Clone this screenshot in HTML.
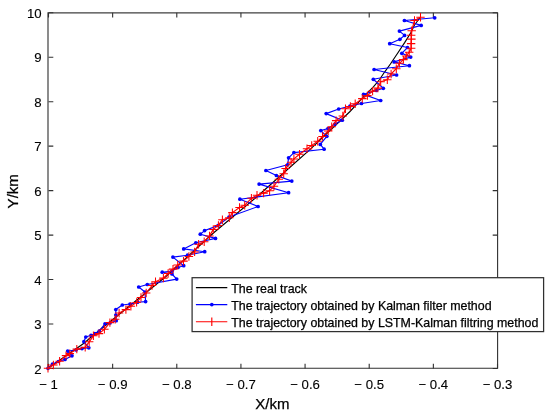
<!DOCTYPE html>
<html><head><meta charset="utf-8"><title>Trajectory plot</title><style>html,body{margin:0;padding:0;background:#fff;overflow:hidden}svg{display:block}</style></head><body>
<svg width="550" height="417" viewBox="0 0 550 417">
<rect width="550" height="417" fill="#fff"/>
<path d="M48,12.9V368.3M47.4,12.9H497.6" fill="none" stroke="#404040" stroke-width="1.2"/>
<path d="M47.4,368.3H498.1M497.6,12.4V368.8" fill="none" stroke="#303030" stroke-width="1.1"/>
<path d="M48.50,368.5v-4.8M48.50,12.75v4.8M112.64,368.5v-4.8M112.64,12.75v4.8M176.79,368.5v-4.8M176.79,12.75v4.8M240.93,368.5v-4.8M240.93,12.75v4.8M305.07,368.5v-4.8M305.07,12.75v4.8M369.21,368.5v-4.8M369.21,12.75v4.8M433.36,368.5v-4.8M433.36,12.75v4.8M497.50,368.5v-4.8M497.50,12.75v4.8M48.5,368.50h4.8M497.5,368.50h-4.8M48.5,324.03h4.8M497.5,324.03h-4.8M48.5,279.56h4.8M497.5,279.56h-4.8M48.5,235.09h4.8M497.5,235.09h-4.8M48.5,190.62h4.8M497.5,190.62h-4.8M48.5,146.16h4.8M497.5,146.16h-4.8M48.5,101.69h4.8M497.5,101.69h-4.8M48.5,57.22h4.8M497.5,57.22h-4.8M48.5,12.75h4.8M497.5,12.75h-4.8" stroke="#303030" stroke-width="1.1" fill="none"/>
<g stroke-linejoin="round">
<polyline points="48.0,368.3 84.0,343.2 92.4,336.0 165.3,277.0 214.0,232.5 258.6,195.3 287.7,169.3 308.8,150.6 349.5,112.0 364.0,96.3 373.6,86.7 379.6,79.5 384.4,72.3 390.4,64.0 397.6,53.2 404.8,42.4 410.8,32.8 414.5,25.0 420.5,17.0" fill="none" stroke="#000" stroke-width="1.15"/>
<polyline points="48.0,368.3 52.5,364.0 58.5,361.5 65.0,359.5 72.0,355.8 67.7,351.1 76.0,350.0 82.0,348.6 88.8,347.8 83.9,341.7 85.8,337.0 91.0,335.3 94.9,333.7 99.2,331.2 105.0,323.8 110.0,323.0 116.2,320.7 115.8,315.0 115.8,309.5 122.3,305.0 130.0,304.0 137.6,302.2 145.6,301.6 145.0,292.0 138.7,287.0 147.3,284.5 176.7,279.1 172.0,274.0 162.2,272.2 172.0,271.0 178.0,267.5 183.7,265.7 172.9,257.1 187.5,255.2 204.7,251.7 183.7,248.9 195.8,242.8 215.5,238.4 200.3,234.2 204.6,230.6 218.0,225.5 229.0,217.0 258.1,206.5 239.9,199.2 288.6,192.7 259.1,184.1 291.8,181.1 276.4,175.5 265.9,170.5 287.6,164.8 288.6,157.8 293.9,152.6 324.1,149.2 320.3,144.4 326.8,136.3 320.8,130.6 328.0,128.5 335.0,124.0 342.3,120.2 326.2,113.6 338.7,109.0 350.0,106.0 361.5,103.5 380.7,100.5 363.5,94.4 376.3,90.5 383.3,88.3 373.3,79.3 396.6,75.0 374.1,69.5 409.4,65.7 394.1,61.9 410.7,57.1 401.8,53.3 407.5,47.5 389.7,43.7 399.9,39.3 404.6,35.4 399.4,31.1 421.2,25.4 404.4,20.5 434.7,17.8" fill="none" stroke="#00f" stroke-width="1.15"/>
<g fill="#00f">
<circle cx="48.0" cy="368.3" r="1.85"/>
<circle cx="52.5" cy="364.0" r="1.85"/>
<circle cx="58.5" cy="361.5" r="1.85"/>
<circle cx="65.0" cy="359.5" r="1.85"/>
<circle cx="72.0" cy="355.8" r="1.85"/>
<circle cx="67.7" cy="351.1" r="1.85"/>
<circle cx="76.0" cy="350.0" r="1.85"/>
<circle cx="82.0" cy="348.6" r="1.85"/>
<circle cx="88.8" cy="347.8" r="1.85"/>
<circle cx="83.9" cy="341.7" r="1.85"/>
<circle cx="85.8" cy="337.0" r="1.85"/>
<circle cx="91.0" cy="335.3" r="1.85"/>
<circle cx="94.9" cy="333.7" r="1.85"/>
<circle cx="99.2" cy="331.2" r="1.85"/>
<circle cx="105.0" cy="323.8" r="1.85"/>
<circle cx="110.0" cy="323.0" r="1.85"/>
<circle cx="116.2" cy="320.7" r="1.85"/>
<circle cx="115.8" cy="315.0" r="1.85"/>
<circle cx="115.8" cy="309.5" r="1.85"/>
<circle cx="122.3" cy="305.0" r="1.85"/>
<circle cx="130.0" cy="304.0" r="1.85"/>
<circle cx="137.6" cy="302.2" r="1.85"/>
<circle cx="145.6" cy="301.6" r="1.85"/>
<circle cx="145.0" cy="292.0" r="1.85"/>
<circle cx="138.7" cy="287.0" r="1.85"/>
<circle cx="147.3" cy="284.5" r="1.85"/>
<circle cx="176.7" cy="279.1" r="1.85"/>
<circle cx="172.0" cy="274.0" r="1.85"/>
<circle cx="162.2" cy="272.2" r="1.85"/>
<circle cx="172.0" cy="271.0" r="1.85"/>
<circle cx="178.0" cy="267.5" r="1.85"/>
<circle cx="183.7" cy="265.7" r="1.85"/>
<circle cx="172.9" cy="257.1" r="1.85"/>
<circle cx="187.5" cy="255.2" r="1.85"/>
<circle cx="204.7" cy="251.7" r="1.85"/>
<circle cx="183.7" cy="248.9" r="1.85"/>
<circle cx="195.8" cy="242.8" r="1.85"/>
<circle cx="215.5" cy="238.4" r="1.85"/>
<circle cx="200.3" cy="234.2" r="1.85"/>
<circle cx="204.6" cy="230.6" r="1.85"/>
<circle cx="218.0" cy="225.5" r="1.85"/>
<circle cx="229.0" cy="217.0" r="1.85"/>
<circle cx="258.1" cy="206.5" r="1.85"/>
<circle cx="239.9" cy="199.2" r="1.85"/>
<circle cx="288.6" cy="192.7" r="1.85"/>
<circle cx="259.1" cy="184.1" r="1.85"/>
<circle cx="291.8" cy="181.1" r="1.85"/>
<circle cx="276.4" cy="175.5" r="1.85"/>
<circle cx="265.9" cy="170.5" r="1.85"/>
<circle cx="287.6" cy="164.8" r="1.85"/>
<circle cx="288.6" cy="157.8" r="1.85"/>
<circle cx="293.9" cy="152.6" r="1.85"/>
<circle cx="324.1" cy="149.2" r="1.85"/>
<circle cx="320.3" cy="144.4" r="1.85"/>
<circle cx="326.8" cy="136.3" r="1.85"/>
<circle cx="320.8" cy="130.6" r="1.85"/>
<circle cx="328.0" cy="128.5" r="1.85"/>
<circle cx="335.0" cy="124.0" r="1.85"/>
<circle cx="342.3" cy="120.2" r="1.85"/>
<circle cx="326.2" cy="113.6" r="1.85"/>
<circle cx="338.7" cy="109.0" r="1.85"/>
<circle cx="350.0" cy="106.0" r="1.85"/>
<circle cx="361.5" cy="103.5" r="1.85"/>
<circle cx="380.7" cy="100.5" r="1.85"/>
<circle cx="363.5" cy="94.4" r="1.85"/>
<circle cx="376.3" cy="90.5" r="1.85"/>
<circle cx="383.3" cy="88.3" r="1.85"/>
<circle cx="373.3" cy="79.3" r="1.85"/>
<circle cx="396.6" cy="75.0" r="1.85"/>
<circle cx="374.1" cy="69.5" r="1.85"/>
<circle cx="409.4" cy="65.7" r="1.85"/>
<circle cx="394.1" cy="61.9" r="1.85"/>
<circle cx="410.7" cy="57.1" r="1.85"/>
<circle cx="401.8" cy="53.3" r="1.85"/>
<circle cx="407.5" cy="47.5" r="1.85"/>
<circle cx="389.7" cy="43.7" r="1.85"/>
<circle cx="399.9" cy="39.3" r="1.85"/>
<circle cx="404.6" cy="35.4" r="1.85"/>
<circle cx="399.4" cy="31.1" r="1.85"/>
<circle cx="421.2" cy="25.4" r="1.85"/>
<circle cx="404.4" cy="20.5" r="1.85"/>
<circle cx="434.7" cy="17.8" r="1.85"/>
</g>
<polyline points="48.0,368.2 53.4,365.0 59.6,361.3 66.0,355.6 69.8,353.6 76.8,349.1 85.2,347.2 89.2,341.8 93.4,335.8 99.0,333.6 104.4,329.3 109.9,322.6 115.2,319.3 119.1,313.0 125.9,309.6 130.9,306.3 136.6,302.4 141.0,297.4 146.2,293.0 152.0,285.5 155.5,281.7 163.4,278.1 168.1,273.5 173.0,269.1 177.7,265.0 183.5,261.1 188.9,256.5 194.6,251.9 198.6,244.2 204.2,241.7 209.5,235.9 213.3,229.4 218.4,225.4 222.4,219.7 229.3,217.7 232.4,212.6 239.5,207.5 244.7,205.2 251.4,198.3 257.0,195.3 263.6,193.1 269.6,190.7 274.0,186.3 278.8,179.2 283.7,173.7 285.6,168.5 291.1,162.3 293.9,158.9 299.5,154.2 307.0,148.7 311.7,145.4 317.7,141.3 322.5,136.5 328.2,131.0 331.7,126.7 336.1,120.6 342.8,116.0 345.5,108.7 350.4,106.4 355.2,103.8 362.3,98.6 367.4,95.6 372.6,91.1 377.9,88.1 380.7,81.7 387.3,79.7 391.1,74.0 396.3,68.7 399.4,63.3 403.4,59.6 406.3,55.9 409.2,52.2 411.2,48.2 411.1,43.6 411.4,39.1 411.2,35.2 411.7,30.7 414.5,20.4 420.5,17.2" fill="none" stroke="#f00" stroke-width="1.15"/>
<path d="M43.8,368.2h8.4M48.0,364.0v8.4M49.2,365.0h8.4M53.4,360.8v8.4M55.4,361.3h8.4M59.6,357.1v8.4M61.8,355.6h8.4M66.0,351.4v8.4M65.6,353.6h8.4M69.8,349.4v8.4M72.6,349.1h8.4M76.8,344.9v8.4M81.0,347.2h8.4M85.2,343.0v8.4M85.0,341.8h8.4M89.2,337.6v8.4M89.2,335.8h8.4M93.4,331.6v8.4M94.8,333.6h8.4M99.0,329.4v8.4M100.2,329.3h8.4M104.4,325.1v8.4M105.7,322.6h8.4M109.9,318.4v8.4M111.0,319.3h8.4M115.2,315.1v8.4M114.9,313.0h8.4M119.1,308.8v8.4M121.7,309.6h8.4M125.9,305.4v8.4M126.7,306.3h8.4M130.9,302.1v8.4M132.4,302.4h8.4M136.6,298.2v8.4M136.8,297.4h8.4M141.0,293.2v8.4M142.0,293.0h8.4M146.2,288.8v8.4M147.8,285.5h8.4M152.0,281.3v8.4M151.3,281.7h8.4M155.5,277.5v8.4M159.2,278.1h8.4M163.4,273.9v8.4M163.9,273.5h8.4M168.1,269.3v8.4M168.8,269.1h8.4M173.0,264.9v8.4M173.5,265.0h8.4M177.7,260.8v8.4M179.3,261.1h8.4M183.5,256.9v8.4M184.7,256.5h8.4M188.9,252.3v8.4M190.4,251.9h8.4M194.6,247.7v8.4M194.4,244.2h8.4M198.6,240.0v8.4M200.0,241.7h8.4M204.2,237.5v8.4M205.3,235.9h8.4M209.5,231.7v8.4M209.1,229.4h8.4M213.3,225.2v8.4M214.2,225.4h8.4M218.4,221.2v8.4M218.2,219.7h8.4M222.4,215.5v8.4M225.1,217.7h8.4M229.3,213.5v8.4M228.2,212.6h8.4M232.4,208.4v8.4M235.3,207.5h8.4M239.5,203.3v8.4M240.5,205.2h8.4M244.7,201.0v8.4M247.2,198.3h8.4M251.4,194.1v8.4M252.8,195.3h8.4M257.0,191.1v8.4M259.4,193.1h8.4M263.6,188.9v8.4M265.4,190.7h8.4M269.6,186.5v8.4M269.8,186.3h8.4M274.0,182.1v8.4M274.6,179.2h8.4M278.8,175.0v8.4M279.5,173.7h8.4M283.7,169.5v8.4M281.4,168.5h8.4M285.6,164.3v8.4M286.9,162.3h8.4M291.1,158.1v8.4M289.7,158.9h8.4M293.9,154.7v8.4M295.3,154.2h8.4M299.5,150.0v8.4M302.8,148.7h8.4M307.0,144.5v8.4M307.5,145.4h8.4M311.7,141.2v8.4M313.5,141.3h8.4M317.7,137.1v8.4M318.3,136.5h8.4M322.5,132.3v8.4M324.0,131.0h8.4M328.2,126.8v8.4M327.5,126.7h8.4M331.7,122.5v8.4M331.9,120.6h8.4M336.1,116.4v8.4M338.6,116.0h8.4M342.8,111.8v8.4M341.3,108.7h8.4M345.5,104.5v8.4M346.2,106.4h8.4M350.4,102.2v8.4M351.0,103.8h8.4M355.2,99.6v8.4M358.1,98.6h8.4M362.3,94.4v8.4M363.2,95.6h8.4M367.4,91.4v8.4M368.4,91.1h8.4M372.6,86.9v8.4M373.7,88.1h8.4M377.9,83.9v8.4M376.5,81.7h8.4M380.7,77.5v8.4M383.1,79.7h8.4M387.3,75.5v8.4M386.9,74.0h8.4M391.1,69.8v8.4M392.1,68.7h8.4M396.3,64.5v8.4M395.2,63.3h8.4M399.4,59.1v8.4M399.2,59.6h8.4M403.4,55.4v8.4M402.1,55.9h8.4M406.3,51.7v8.4M405.0,52.2h8.4M409.2,48.0v8.4M407.0,48.2h8.4M411.2,44.0v8.4M406.9,43.6h8.4M411.1,39.4v8.4M407.2,39.1h8.4M411.4,34.9v8.4M407.0,35.2h8.4M411.2,31.0v8.4M407.5,30.7h8.4M411.7,26.5v8.4M410.3,20.4h8.4M414.5,16.2v8.4M416.3,17.2h8.4M420.5,13.0v8.4" stroke="#f00" stroke-width="1.05" fill="none"/>
</g>
<text x="48.50" y="388.8" font-family="Liberation Sans, Arial, Helvetica, sans-serif" font-size="13.2" text-anchor="middle" fill="#000" stroke="#000" stroke-width="0.12" xml:space="preserve">− 1</text>
<text x="112.64" y="388.8" font-family="Liberation Sans, Arial, Helvetica, sans-serif" font-size="13.2" text-anchor="middle" fill="#000" stroke="#000" stroke-width="0.12" xml:space="preserve">− 0.9</text>
<text x="176.79" y="388.8" font-family="Liberation Sans, Arial, Helvetica, sans-serif" font-size="13.2" text-anchor="middle" fill="#000" stroke="#000" stroke-width="0.12" xml:space="preserve">− 0.8</text>
<text x="240.93" y="388.8" font-family="Liberation Sans, Arial, Helvetica, sans-serif" font-size="13.2" text-anchor="middle" fill="#000" stroke="#000" stroke-width="0.12" xml:space="preserve">− 0.7</text>
<text x="305.07" y="388.8" font-family="Liberation Sans, Arial, Helvetica, sans-serif" font-size="13.2" text-anchor="middle" fill="#000" stroke="#000" stroke-width="0.12" xml:space="preserve">− 0.6</text>
<text x="369.21" y="388.8" font-family="Liberation Sans, Arial, Helvetica, sans-serif" font-size="13.2" text-anchor="middle" fill="#000" stroke="#000" stroke-width="0.12" xml:space="preserve">− 0.5</text>
<text x="433.36" y="388.8" font-family="Liberation Sans, Arial, Helvetica, sans-serif" font-size="13.2" text-anchor="middle" fill="#000" stroke="#000" stroke-width="0.12" xml:space="preserve">− 0.4</text>
<text x="497.50" y="388.8" font-family="Liberation Sans, Arial, Helvetica, sans-serif" font-size="13.2" text-anchor="middle" fill="#000" stroke="#000" stroke-width="0.12" xml:space="preserve">− 0.3</text>
<text x="41.6" y="373.70" font-family="Liberation Sans, Arial, Helvetica, sans-serif" font-size="13.2" text-anchor="end" fill="#000" stroke="#000" stroke-width="0.12">2</text>
<text x="41.6" y="329.23" font-family="Liberation Sans, Arial, Helvetica, sans-serif" font-size="13.2" text-anchor="end" fill="#000" stroke="#000" stroke-width="0.12">3</text>
<text x="41.6" y="284.76" font-family="Liberation Sans, Arial, Helvetica, sans-serif" font-size="13.2" text-anchor="end" fill="#000" stroke="#000" stroke-width="0.12">4</text>
<text x="41.6" y="240.29" font-family="Liberation Sans, Arial, Helvetica, sans-serif" font-size="13.2" text-anchor="end" fill="#000" stroke="#000" stroke-width="0.12">5</text>
<text x="41.6" y="195.82" font-family="Liberation Sans, Arial, Helvetica, sans-serif" font-size="13.2" text-anchor="end" fill="#000" stroke="#000" stroke-width="0.12">6</text>
<text x="41.6" y="151.36" font-family="Liberation Sans, Arial, Helvetica, sans-serif" font-size="13.2" text-anchor="end" fill="#000" stroke="#000" stroke-width="0.12">7</text>
<text x="41.6" y="106.89" font-family="Liberation Sans, Arial, Helvetica, sans-serif" font-size="13.2" text-anchor="end" fill="#000" stroke="#000" stroke-width="0.12">8</text>
<text x="41.6" y="62.42" font-family="Liberation Sans, Arial, Helvetica, sans-serif" font-size="13.2" text-anchor="end" fill="#000" stroke="#000" stroke-width="0.12">9</text>
<text x="41.6" y="17.95" font-family="Liberation Sans, Arial, Helvetica, sans-serif" font-size="13.2" text-anchor="end" fill="#000" stroke="#000" stroke-width="0.12">10</text>
<text x="272.3" y="409.2" font-family="Liberation Sans, Arial, Helvetica, sans-serif" font-size="15" text-anchor="middle" fill="#000" stroke="#000" stroke-width="0.25">X/km</text>
<text transform="translate(18.2,191.3) rotate(-90)" x="0" y="0" font-family="Liberation Sans, Arial, Helvetica, sans-serif" font-size="15" text-anchor="middle" fill="#000" stroke="#000" stroke-width="0.25">Y/km</text>
<rect x="192.1" y="277.7" width="351.5" height="53.900000000000034" fill="#fff" stroke="#303030" stroke-width="1.25"/>
<path d="M195.9,287.6H227.3" stroke="#000" stroke-width="1.15"/>
<path d="M195.9,304.6H227.3" stroke="#00f" stroke-width="1.15"/>
<circle cx="211.8" cy="304.6" r="1.85" fill="#00f"/>
<path d="M195.9,321.7H227.3M211.8,317.5v8.4" stroke="#f00" stroke-width="1.15"/>
<text x="231.2" y="292.5" font-family="Liberation Sans, Arial, Helvetica, sans-serif" font-size="12.4" fill="#000" stroke="#000" stroke-width="0.25">The real track</text>
<text x="231.2" y="309.5" font-family="Liberation Sans, Arial, Helvetica, sans-serif" font-size="12.4" fill="#000" stroke="#000" stroke-width="0.25">The trajectory obtained by Kalman filter method</text>
<text x="231.2" y="326.6" font-family="Liberation Sans, Arial, Helvetica, sans-serif" font-size="12.4" fill="#000" stroke="#000" stroke-width="0.25">The trajectory obtained by LSTM-Kalman filtring method</text>
</svg>
</body></html>
